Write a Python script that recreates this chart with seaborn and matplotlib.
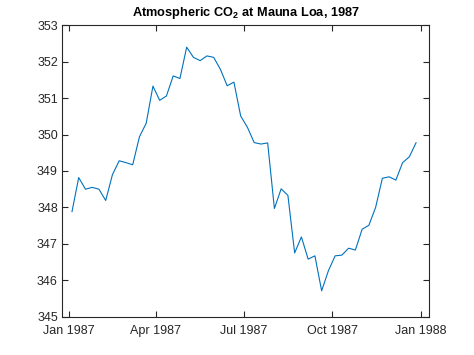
import pandas as pd
import matplotlib.pyplot as plt
import matplotlib.dates as mdates
import seaborn as sns

# weekly CO2 readings (ppm) at Mauna Loa, 1987
start_date = "1987-01-04"
co2_ppm = [347.88, 348.82, 348.50, 348.55, 348.50, 348.19, 348.90, 349.28,
           349.23, 349.17, 349.94, 350.31, 351.33, 350.94, 351.06, 351.61,
           351.54, 352.40, 352.12, 352.03, 352.16, 352.12, 351.79, 351.34,
           351.44, 350.51, 350.20, 349.78, 349.74, 349.77, 347.97, 348.51,
           348.33, 346.75, 347.19, 346.58, 346.67, 345.71, 346.26, 346.67,
           346.69, 346.88, 346.83, 347.40, 347.51, 348.00, 348.80, 348.84,
           348.75, 349.23, 349.39, 349.78]
y_ticks = [345, 346, 347, 348, 349, 350, 351, 352, 353]

df = pd.DataFrame({
    "date": pd.date_range(start_date, periods=len(co2_ppm), freq="7D"),
    "co2": co2_ppm,
})

sns.set_style("white")
plt.rcParams["font.family"] = ["Liberation Sans", "DejaVu Sans"]
edge = "#262626"

fig = plt.figure(figsize=(4.74, 3.55), dpi=100)
ax = fig.add_axes([0.1308, 0.108, 0.7742, 0.8207])

sns.lineplot(data=df, x="date", y="co2", color="#0072BD", linewidth=0.8, ax=ax)

ax.set_xlim(pd.Timestamp("1986-12-24 16:00"), pd.Timestamp("1988-01-09 08:00"))
ax.set_ylim(345, 353)
ax.set_yticks(y_ticks)
ax.xaxis.set_major_locator(mdates.MonthLocator(bymonth=[1, 4, 7, 10]))
ax.xaxis.set_major_formatter(mdates.DateFormatter("%b %Y"))

ax.set_xlabel("")
ax.set_ylabel("")
ax.set_title(r"Atmospheric CO$_{\mathregular{2}}$ at Mauna Loa, 1987",
             fontsize=9.2, fontweight="bold", color="black", pad=7)

for side in ax.spines.values():
    side.set_color(edge)
    side.set_linewidth(0.8)
ax.tick_params(direction="in", length=4, width=0.8, color=edge,
               labelcolor=edge, labelsize=9, top=True, right=True,
               left=True, bottom=True, pad=3)
ax.tick_params(axis="x", pad=6)

fig.savefig("out.png", dpi=100)
